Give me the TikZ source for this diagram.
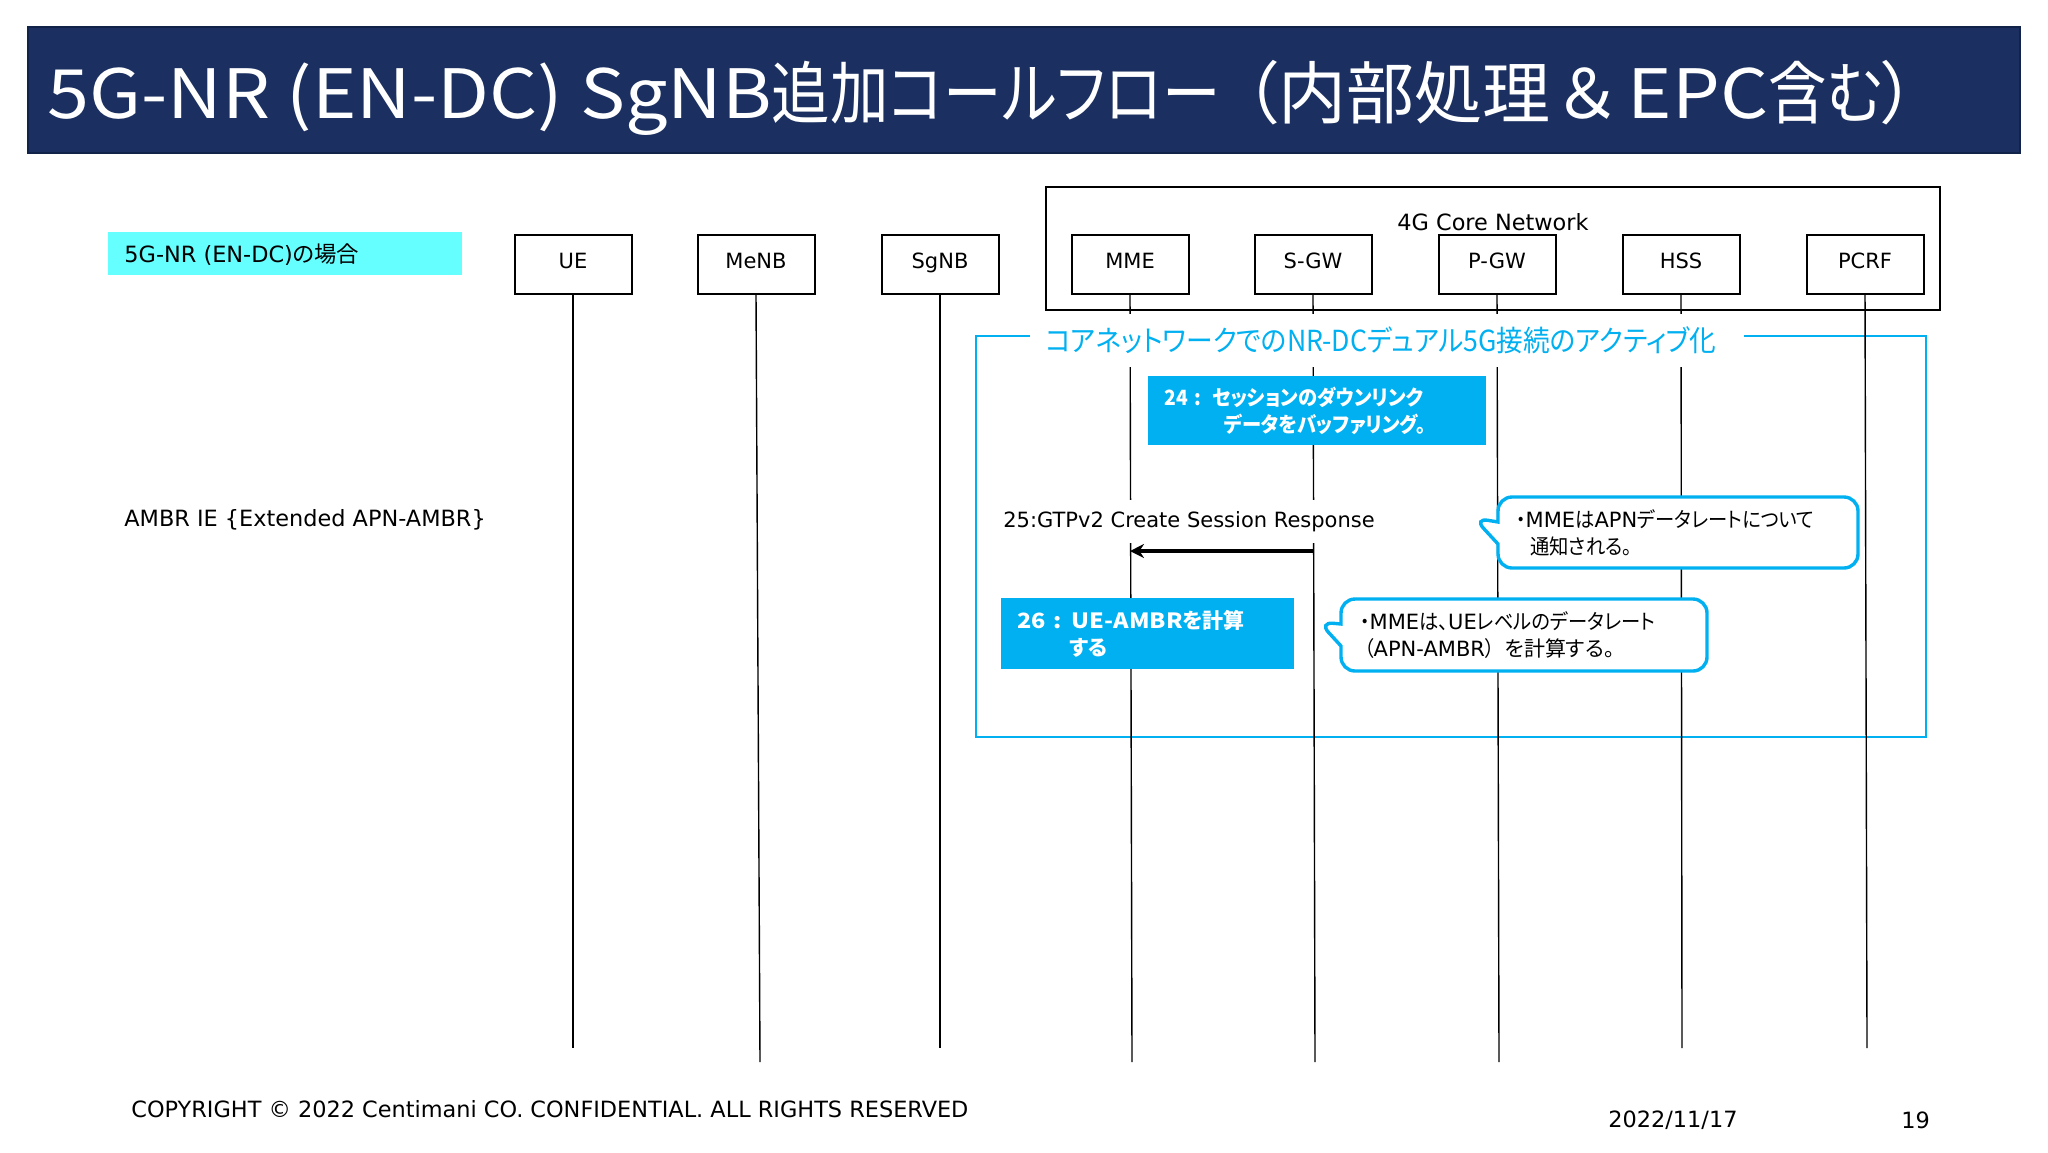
\documentclass[tikz,border=0pt]{standalone}
\usepackage{fontspec}
\usepackage{xcolor}
\usepackage{tikz}
\usetikzlibrary{
    arrows.meta,
    positioning,
    shapes.callouts
}
\setmainfont{DejaVu Sans}
\newfontfamily\jp[RawFeature=+palt]{Noto Sans CJK JP}
\newfontfamily\jpn[RawFeature=+palt,FakeStretch=0.92]{Noto Sans CJK JP}
\newfontfamily\titlelat[FakeStretch=1.11]{Noto Sans CJK JP}
\newfontfamily\titlenarrow[RawFeature=+palt,FakeStretch=0.86]{Noto Sans CJK JP}
\newfontfamily\latbf[FakeStretch=1.12]{Noto Sans CJK JP}
\definecolor{titlenavy}{HTML}{1B3060}
\definecolor{titleedge}{HTML}{12234A}
\definecolor{notecyan}{HTML}{66FFFF}
\definecolor{flowblue}{HTML}{00B0F0}
\tikzset{
    >={Stealth[length=7pt,width=7pt]},
    node distance=92pt,
    on grid,
    entity/.style={draw=black, line width=1pt, fill=white, minimum width=58.5pt, minimum height=29.5pt, inner sep=0pt, text height=6.3pt, text depth=2pt, font=\fontsize{10.5}{13}\selectfont},
    lifeline/.style={draw=black, line width=0.7pt},
    procbox/.style={fill=flowblue, text=white, anchor=west, align=left, inner sep=0pt, font=\bfseries\fontsize{10.5}{13.5}\selectfont},
    remark/.style={rectangle callout, draw=flowblue, line width=1.7pt, fill=white, rounded corners=7pt, align=left, inner sep=0pt, callout pointer width=11pt, font=\fontsize{10.5}{13.5}\selectfont},
    plain/.style={inner sep=0pt, font=\fontsize{11.2}{13}\selectfont},
}

\begin{document}
\begin{tikzpicture}[x=0.5pt,y=-0.5pt]
       \useasboundingbox (0,0) rectangle (2048,1152);
       \node[draw=titleedge, line width=1.2pt, fill=titlenavy, minimum width=996pt, minimum height=63pt, inner sep=0pt] (title) at (1024,90) {};
       \node[text=white, anchor=west, inner sep=0pt, font=\fontsize{34}{40}\selectfont] (title_text) at (47,98) {{\titlelat 5G-NR (EN-DC) SgNB}{\titlenarrow 追加コールフロー}\hspace*{12pt}{\jp （内部処理\hspace*{5pt}＆\hspace*{6pt}}{\titlelat EPC}{\titlenarrow 含む}{\jp ）}};

       \node[draw=black, line width=1pt, minimum width=447pt, minimum height=61.5pt, inner sep=0pt] (core) at (1493,248.5) {};
       \node[plain] (core_label) at (1493,222) {4G Core Network};
       \node[fill=notecyan, minimum width=177pt, minimum height=21.5pt, inner sep=0pt] (case_box) at (285,253.5) {};
       \node[plain, anchor=west] (case_label) at (124,255) {5G-NR (EN-DC){\jp の場合}};

       \node[entity] (ue) at (573,264.5) {UE};
       \node[entity] (menb) [right of=ue, xshift=-0.5pt] {MeNB};
       \node[entity] (sgnb) [right of=menb] {SgNB};
       \node[entity] (mme) [right of=sgnb, xshift=3pt] {MME};
       \node[entity] (sgw) [right of=mme, xshift=-0.5pt] {S-GW};
       \node[entity] (pgw) [right of=sgw] {P-GW};
       \node[entity] (hss) [right of=pgw] {HSS};
       \node[entity] (pcrf) [right of=hss] {PCRF};

       \coordinate (ue_end) at (573,1048);
       \coordinate (menb_end) at (760,1062);
       \coordinate (sgnb_end) at (940,1048);
       \coordinate (mme_end) at (1132,1062);
       \coordinate (sgw_end) at (1315,1062);
       \coordinate (pgw_end) at (1499,1062);
       \coordinate (hss_end) at (1682,1048);
       \coordinate (pcrf_end) at (1867,1048);

       \node[draw=flowblue, line width=1pt, minimum width=475pt, minimum height=200.5pt, inner sep=0pt] (frame) at (1451,536.5) {};

       \path[lifeline]
       (ue.south) edge (ue_end)
       (menb.south) edge (menb_end)
       (sgnb.south) edge (sgnb_end)
       (mme.south) edge (mme_end)
       (sgw.south) edge (sgw_end)
       (pgw.south) edge (pgw_end)
       (hss.south) edge (hss_end)
       (pcrf.south) edge (pcrf_end);

       \node[fill=white, text=flowblue, minimum width=357pt, minimum height=26.5pt, inner sep=0pt, font=\jpn\fontsize{14.5}{17}\selectfont] (frame_label) at (1387,340) {コアネットワークでのNR-DCデュアル5G接続のアクティブ化\hspace*{6pt}};

       \node[procbox, minimum width=169pt, minimum height=34.5pt, text width=161pt] (step_24) at (1148,410.5) {\jpn\hspace*{4pt}24 : セッションのダウンリンク\\\hspace*{34pt}データをバッファリング。};
       \node[plain, fill=white, minimum width=186pt, minimum height=21.5pt, font=\fontsize{10.5}{13}\selectfont] (msg_25) at (1189,521.5) {25:GTPv2 Create Session Response};
       \coordinate (msg_25_start) at (sgw |- 0,551);
       \coordinate (msg_25_end) at (mme |- 0,551);
       \draw[->, line width=2pt, black] (msg_25_start) -- (msg_25_end);
       \node[procbox, minimum width=146.5pt, minimum height=35.5pt, text width=146.5pt] (step_26) at (1001,633.5) {\hspace*{8pt}{\latbf 26 : UE-AMBR}{\jp を計算}\\\hspace*{34pt}{\jp する}};

       \node[remark, minimum width=180pt, minimum height=35.5pt, text width=170pt, callout absolute pointer={(1474,518)}] (note_25) at (1678,532.5) {\hspace*{4pt}{\jpn ・}MME{\jpn は}APN{\jpn データレートについて}\\\hspace*{11pt}{\jpn 通知される。}};
       \node[remark, minimum width=183pt, minimum height=36pt, text width=170pt, callout absolute pointer={(1319,622)}] (note_26) at (1524,635) {\hspace*{3pt}{\jpn ・}MME{\jpn は、}UE{\jpn レベルのデータレート}\\\hspace*{5pt}{\jpn （}APN-AMBR{\jpn ）}\hspace*{5pt}{\jp を計算する。}};

       \node[plain, anchor=west] (ambr) at (124,520) {AMBR IE \{Extended APN-AMBR\}};
       \node[plain, anchor=west] (copyright) at (131,1109) {COPYRIGHT © 2022 Centimani CO. CONFIDENTIAL. ALL RIGHTS RESERVED};
       \node[plain, anchor=west] (date) at (1608,1120) {2022/11/17};
       \node[plain, anchor=west] (page) at (1901,1120) {19};
\end{tikzpicture}
\end{document}
